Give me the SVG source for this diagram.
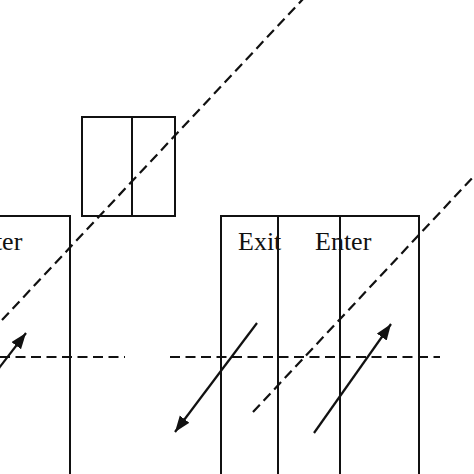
<svg xmlns="http://www.w3.org/2000/svg" width="474" height="474" viewBox="0 0 474 474">
<style>
.box{fill:none;stroke:#111;stroke-width:2}
.dash{fill:none;stroke:#111;stroke-width:2.2;stroke-dasharray:10 5.5}
.arr{fill:none;stroke:#111;stroke-width:2.2}
.lbl{font-family:"Liberation Serif","Times New Roman",serif;font-size:26px;fill:#111}
</style>
<defs>
<marker id="ah" markerUnits="userSpaceOnUse" markerWidth="18" markerHeight="14" refX="16" refY="6" orient="auto">
<path d="M0,0 L16,6 L0,12 Z" fill="#111"/>
</marker>
</defs>
<rect width="474" height="474" fill="#fff"/>
<g id="left-block">
<rect class="box" x="-10" y="216" width="80" height="270"/>
<text class="lbl" x="-34" y="250">Enter</text>
</g>
<g id="small-block">
<rect class="box" x="82" y="117" width="93" height="99"/>
<line class="box" x1="132" y1="117" x2="132" y2="216"/>
</g>
<g id="right-block">
<rect class="box" x="221" y="216" width="198" height="270"/>
<line class="box" x1="278" y1="216" x2="278" y2="486"/>
<line class="box" x1="340" y1="216" x2="340" y2="486"/>
<text class="lbl" x="238" y="250">Exit</text>
<text class="lbl" x="315" y="250">Enter</text>
</g>
<g id="connectors">
<line class="dash" x1="2" y1="320" x2="303" y2="-1"/>
<line class="dash" x1="253" y1="412" x2="476" y2="174"/>
<line class="dash" x1="0" y1="357" x2="125" y2="357"/>
<line class="dash" x1="170" y1="357" x2="440" y2="357"/>
<line class="arr" x1="-4" y1="372" x2="26" y2="333" marker-end="url(#ah)"/>
<line class="arr" x1="257" y1="323" x2="175" y2="432" marker-end="url(#ah)"/>
<line class="arr" x1="314" y1="433" x2="391" y2="324" marker-end="url(#ah)"/>
</g>
</svg>
